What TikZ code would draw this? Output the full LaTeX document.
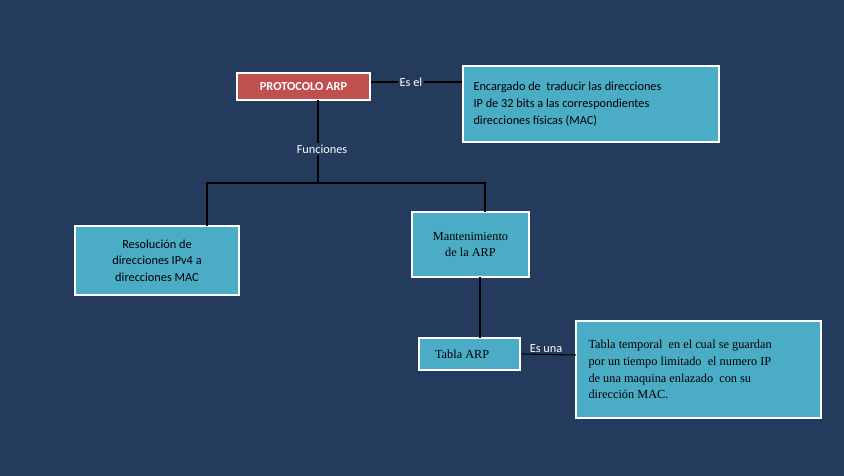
\documentclass[tikz,border=0pt]{standalone}
\usepackage{fontspec}
\setmainfont{Carlito}
\newfontfamily\tnr{Liberation Serif}
\definecolor{bg}{HTML}{243B5E}
\definecolor{teal}{HTML}{4BACC6}
\definecolor{redb}{HTML}{C0504D}
\begin{document}
\begin{tikzpicture}[x=0.02cm,y=-0.02cm,
  box/.style={draw=white,line width=1.6pt,fill=teal,inner sep=0pt,align=center,font=\fontsize{7}{9.5}\selectfont},
  lbl/.style={text=white,font=\fontsize{7}{8}\selectfont,inner sep=1pt},
  ln/.style={draw=black,line width=0.6pt}]
\fill[bg] (0,0) rectangle (844,476);
\useasboundingbox (0,0) rectangle (844,476);
\node[box,fill=redb,minimum width=133*0.02cm,minimum height=27*0.02cm,text=white,font=\fontsize{7}{8}\selectfont\bfseries] (arp) at (303.5,86.5) {PROTOCOLO ARP};
\node[box,minimum width=256*0.02cm,minimum height=76*0.02cm,align=left] (enc) at (591,104) {\begin{minipage}{4.7cm}Encargado de \ traducir las direcciones\\IP de 32 bits a las correspondientes\\direcciones físicas (MAC)\end{minipage}};
\node[box,minimum width=164*0.02cm,minimum height=69*0.02cm] (res) at (157,260.5) {Resolución de\\direcciones IPv4 a\\direcciones MAC};
\node[box,minimum width=117*0.02cm,minimum height=65*0.02cm,font=\tnr\fontsize{7}{9.5}\selectfont] (man) at (470.5,244.5) {Mantenimiento\\de la ARP};
\node[box,minimum width=101*0.02cm,minimum height=32*0.02cm,font=\tnr\fontsize{7}{9}\selectfont] (tab) at (469.5,354) {\hspace*{-1.2em}Tabla ARP};
\node[box,minimum width=245*0.02cm,minimum height=97*0.02cm,align=left,font=\tnr\fontsize{7}{9.5}\selectfont] (tem) at (698.5,369.5) {\begin{minipage}{4.4cm}Tabla temporal \ en el cual se guardan\\por un tiempo limitado \ el numero IP\\de una maquina enlazado \ con su\\dirección MAC.\end{minipage}};
\node[lbl] (esel) at (411,82) {Es el};
\node[lbl] (fun) at (322,149) {Funciones};
\node[lbl] (esuna) at (546,349) {Es una};
\coordinate (j) at (318,183);
\draw[ln] (arp.east|-esel) -- (esel.west);
\draw[ln] (esel.east) -- (enc.west|-esel);
\draw[ln] (318,100) -- (fun.north-|318,0);
\draw[ln] (fun.south-|318,0) -- (j);
\draw[ln] (207,226) -- (207,183) -- (485,183) -- (485,212);
\draw[ln] (480,277) -- (480,338);
\draw[ln] (tab.east) -- (576,355);
\end{tikzpicture}
\end{document}
